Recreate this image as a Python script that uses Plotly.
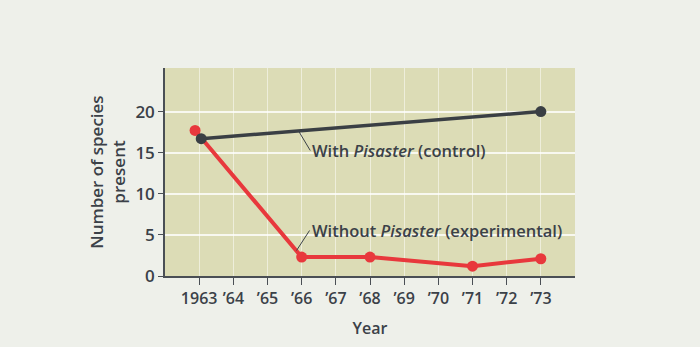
import plotly.graph_objects as go

years_without = [1962.88, 1966, 1968, 1971, 1973]
species_without = [17.7, 2.3, 2.3, 1.2, 2.1]
years_with = [1963.06, 1973]
species_with = [16.7, 20.0]
tick_years = list(range(1963, 1974))
tick_labels = ["1963", "\u201964", "\u201965", "\u201966", "\u201967", "\u201968",
               "\u201969", "\u201970", "\u201971", "\u201972", "\u201973"]

font = "Open Sans, Noto Sans, sans-serif"
txt = "#3b4148"

fig = go.Figure()
fig.add_trace(go.Scatter(x=years_without, y=species_without, mode="lines+markers",
                         line=dict(color="#e8383c", width=4),
                         marker=dict(color="#e8383c", size=11), showlegend=False))
fig.add_trace(go.Scatter(x=years_with, y=species_with, mode="lines+markers",
                         line=dict(color="#3a3f44", width=3.5),
                         marker=dict(color="#3a3f44", size=11), showlegend=False))

annot_font = dict(size=16.5, color=txt, family=font, weight=600)
fig.add_annotation(x=1965.9, y=17.7, xref="x", yref="y", ax=12, ay=20,
                   text="With <i>Pisaster</i> (control)", showarrow=True,
                   arrowhead=0, arrowwidth=1, arrowcolor=txt, xanchor="left",
                   font=annot_font)
fig.add_annotation(x=1965.85, y=3.1, xref="x", yref="y", ax=13, ay=-20,
                   text="Without <i>Pisaster</i> (experimental)", showarrow=True,
                   arrowhead=0, arrowwidth=1, arrowcolor=txt, xanchor="left",
                   font=annot_font)

fig.update_layout(
    width=700, height=347,
    margin=dict(l=165, r=125, t=68, b=71),
    paper_bgcolor="#eef0ea",
    plot_bgcolor="#dcdcb6",
    font=dict(family=font, color=txt, size=15),
    xaxis=dict(range=[1962, 1974], tickvals=tick_years, ticktext=tick_labels,
               showgrid=True, gridcolor="rgba(255,255,255,0.5)", gridwidth=1,
               showline=True, linecolor="#4a4f55", linewidth=1.5,
               ticks="outside", ticklen=7, tickcolor="#4a4f55",
               tickfont=dict(size=16, color=txt, family=font, weight=600),
               title=dict(text="Year", font=dict(size=16, color=txt, family=font, weight=600), standoff=15),
               zeroline=False),
    yaxis=dict(range=[0, 25.3], tickvals=[0, 5, 10, 15, 20],
               showgrid=True, gridcolor="rgba(255,255,255,0.8)", gridwidth=1.5,
               showline=True, linecolor="#4a4f55", linewidth=1.5,
               ticks="outside", ticklen=5, tickcolor="#4a4f55",
               tickfont=dict(size=17, color=txt, family=font, weight=600),
               title=dict(text="Number of species<br>present", font=dict(size=17, color=txt, family=font, weight=600), standoff=5),
               zeroline=False),
)

fig.write_html("out.html")
